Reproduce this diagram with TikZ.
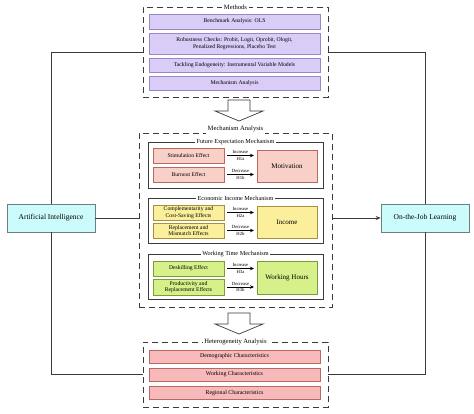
\documentclass[tikz,border=0pt]{standalone}
\usepackage{fontspec}
\setmainfont{Liberation Serif}
\usetikzlibrary{arrows.meta}
\definecolor{purfill}{HTML}{D9CCF7}
\definecolor{purdraw}{HTML}{9A86C9}
\definecolor{pinkfill}{HTML}{F9D0C8}
\definecolor{pinkdraw}{HTML}{B86A62}
\definecolor{hetfill}{HTML}{F7B9B9}
\definecolor{yelfill}{HTML}{FBEF9C}
\definecolor{yeldraw}{HTML}{A8913E}
\definecolor{grnfill}{HTML}{D6F08A}
\definecolor{grndraw}{HTML}{7E9A3A}
\definecolor{cyanfill}{HTML}{CCFBFB}
\definecolor{cyandraw}{HTML}{6E7F80}
\definecolor{linegray}{HTML}{3A3A3A}
\newcommand{\fs}[1]{\fontsize{#1pt}{\dimexpr #1pt*115/100\relax}\selectfont}
\tikzset{
  dbox/.style={draw=linegray, line width=0.9pt, dash pattern=on 6pt off 4pt, inner sep=0pt},
  sbox/.style={draw=linegray, line width=0.9pt, inner sep=0pt},
  ttl/.style={fill=white, inner sep=1.5pt, font=\fs{6.6}},
  subttl/.style={fill=white, inner sep=1.5pt, font=\fs{6.2}},
  purbox/.style={draw=purdraw, fill=purfill, line width=0.6pt, minimum width=171pt, align=center, inner sep=0pt, font=\fs{5.7}},
  pinkbox/.style={draw=pinkdraw, fill=pinkfill, line width=0.6pt, align=center, inner sep=0pt, font=\fs{5.7}},
  hetbox/.style={draw=pinkdraw, fill=hetfill, line width=0.6pt, minimum width=171pt, align=center, inner sep=0pt, font=\fs{5.9}},
  yelbox/.style={draw=yeldraw, fill=yelfill, line width=0.6pt, align=center, inner sep=0pt, font=\fs{5.7}},
  grnbox/.style={draw=grndraw, fill=grnfill, line width=0.6pt, align=center, inner sep=0pt, font=\fs{5.7}},
  cybox/.style={draw=cyandraw, fill=cyanfill, line width=0.6pt, minimum width=88pt, minimum height=28pt, font=\fs{7.5}},
  effect/.style={minimum width=71pt},
  result/.style={minimum width=60pt, font=\fs{7}},
  harrow/.style={-{Stealth[length=4pt,width=3.5pt]}, line width=1pt, black},
  lbl/.style={font=\fs{4.7}, inner sep=1pt},
  conn/.style={draw=linegray, line width=0.9pt},
  blockarrow/.style={draw=linegray, fill=white, line width=0.7pt, line join=miter},
}
\begin{document}
\begin{tikzpicture}[x=1pt,y=-1pt]
\useasboundingbox (0,0) rectangle (474,413);

% ---------- Methods ----------
\node[dbox, minimum width=185pt, minimum height=90pt] (methods) at (235.5,52) {};
\node[ttl] (methodsT) at (235.5,7) {Methods};
\node[purbox, minimum height=15pt] (m1) at (234.5,21.5) {Benchmark Analysis: OLS};
\node[purbox, minimum height=21pt] (m2) at (234.5,43.5) {Robustness Checks: Probit, Logit, Oprobit, Ologit,\\Penalized Regressions, Placebo Test};
\node[purbox, minimum height=14pt] (m3) at (234.5,65) {Tackling Endogeneity: Instrumental Variable Models};
\node[purbox, minimum height=14pt] (m4) at (234.5,83) {Mechanism Analysis};

% ---------- block arrow 1 ----------
\draw[blockarrow] (228,100) -- (250,100) -- (250,111) -- (263,111) -- (239,121) -- (215,111) -- (228,111) -- cycle;

% ---------- Mechanism ----------
\node[dbox, minimum width=193pt, minimum height=174pt] (mech) at (235.5,220) {};
\node[ttl] (mechT) at (235.5,129) {Mechanism Analysis};

% Future expectation
\node[sbox, minimum width=175pt, minimum height=46pt] (fe) at (235.5,165) {};
\node[subttl] (feT) at (235.5,142) {Future Expectation Mechanism};
\node[pinkbox, effect, minimum height=15pt] (stim) at (188.5,155.5) {Stimulation Effect};
\node[pinkbox, effect, minimum height=15pt] (burn) at (188.5,174.5) {Burnout Effect};
\node[pinkbox, result, minimum height=32pt] (motiv) at (287,166) {Motivation};
\draw[harrow] (stim.east -| 227,0) -- node[lbl, above] {Increase} node[lbl, below] {H1a} (stim.east -| 254,0);
\draw[harrow] (burn.east -| 227,0) -- node[lbl, above] {Decrease} node[lbl, below] {H1b} (burn.east -| 254,0);

% Economic income
\node[sbox, minimum width=175pt, minimum height=45pt] (ei) at (235.5,220.5) {};
\node[subttl] (eiT) at (235.5,198) {Economic Income Mechanism};
\node[yelbox, effect, minimum height=15pt] (comp) at (188.5,212.5) {Complementarity and\\Cost-Saving Effects};
\node[yelbox, effect, minimum height=15pt] (repl) at (188.5,230.5) {Replacement and\\Mismatch Effects};
\node[yelbox, result, minimum height=32pt] (income) at (287,222) {Income};
\draw[harrow] (comp.east -| 227,0) -- node[lbl, above] {Increase} node[lbl, below] {H2a} (comp.east -| 254,0);
\draw[harrow] (repl.east -| 227,0) -- node[lbl, above] {Decrease} node[lbl, below] {H2b} (repl.east -| 254,0);

% Working time
\node[sbox, minimum width=175pt, minimum height=45pt] (wt) at (235.5,276.5) {};
\node[subttl] (wtT) at (235.5,254) {Working Time Mechanism};
\node[grnbox, effect, minimum height=15pt] (desk) at (188.5,268.5) {Deskilling Effect};
\node[grnbox, effect, minimum height=16pt] (prod) at (188.5,287) {Productivity and\\Replacement Effects};
\node[grnbox, result, minimum height=33pt] (wh) at (287,277.5) {Working Hours};
\draw[harrow] (desk.east -| 227,0) -- node[lbl, above] {Increase} node[lbl, below] {H3a} (desk.east -| 254,0);
\draw[harrow] (prod.east -| 227,0) -- node[lbl, above] {Decrease} node[lbl, below] {H3b} (prod.east -| 254,0);

% ---------- block arrow 2 ----------
\draw[blockarrow] (228,313) -- (250,313) -- (250,324) -- (263,324) -- (239,334) -- (215,324) -- (228,324) -- cycle;

% ---------- Heterogeneity ----------
\node[dbox, minimum width=185pt, minimum height=65pt] (het) at (235.5,374.5) {};
\node[ttl] (hetT) at (235.5,342) {Heterogeneity Analysis};
\node[hetbox, minimum height=13pt] (h1) at (234.5,356.5) {Demographic Characteristics};
\node[hetbox, minimum height=13pt] (h2) at (234.5,374.5) {Working Characteristics};
\node[hetbox, minimum height=13pt] (h3) at (234.5,393) {Regional Characteristics};

% ---------- side nodes ----------
\node[cybox] (ai) at (51,218) {Artificial Intelligence};
\node[cybox] (ojl) at (425,218) {On-the-Job Learning};

% ---------- connectors ----------
\draw[conn] (ai.north) |- (methods.west);
\draw[conn] (ai.south) |- (het.west);
\draw[conn] (ojl.north) |- (methods.east);
\draw[conn] (ojl.south) |- (het.east);
\draw[conn] (ai.east) -- (ai.east -| mech.west);
\draw[conn, -{Stealth[length=5pt,width=4pt]}] (mech.east |- ojl.west) -- (ojl.west);
\end{tikzpicture}
\end{document}
